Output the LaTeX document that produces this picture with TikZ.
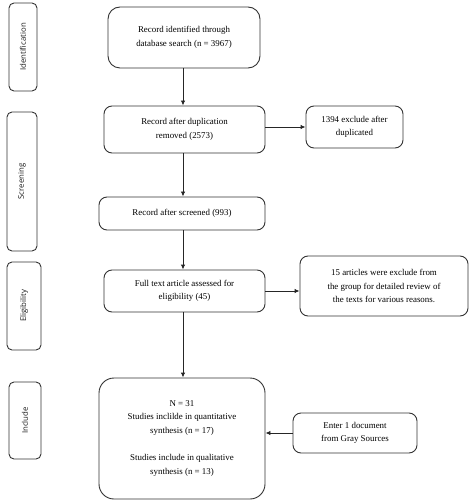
\documentclass[tikz,border=0pt]{standalone}
\usepackage{fontspec}
\setmainfont{Liberation Serif}
\newfontfamily\labfont{Open Sans}
\usetikzlibrary{arrows.meta}
\begin{document}
\begin{tikzpicture}[x=1bp,y=-1bp,
  box/.style={draw=black!80, line width=0.9bp, rounded corners=8bp, align=center,
    font=\fontsize{8.9bp}{13.5bp}\selectfont, inner sep=0pt, text=black},
  stage/.style={draw=black!80, line width=0.9bp, rounded corners=5bp, inner sep=0pt},
  stagetext/.style={rotate=90, font=\labfont\fontsize{7.8bp}{9bp}\selectfont, text=black!90},
  arr/.style={draw=black!85, line width=0.9bp, -{Latex[length=5bp,width=4.5bp]}}]
\useasboundingbox (0,0) rectangle (474,502);
% stage labels
\node[stage, minimum width=28bp, minimum height=88bp] (id) at (23,47) {};
\node[stagetext] (idt) at (id.center) {Identification};
\node[stage, minimum width=30bp, minimum height=139bp] (scr) at (22,181.5) {};
\node[stagetext] (scrt) at (scr.center) {Screening};
\node[stage, minimum width=34bp, minimum height=88bp] (elig) at (24,306) {};
\node[stagetext] (eligt) at (elig.center) {Eligibility};
\node[stage, minimum width=32bp, minimum height=77bp] (incl) at (25,420.5) {};
\node[stagetext] (inclt) at (incl.center) {Include};
% main boxes
\node[box, rounded corners=12bp, minimum width=152bp, minimum height=61bp] (b1) at (184,37.5)
  {Record identified through\\database search (n = 3967)};
\node[box, minimum width=161bp, minimum height=47bp] (b2) at (184.5,129.5)
  {Record after duplication\\removed (2573)};
\node[box, minimum width=166bp, minimum height=33bp] (b3) at (182,213.5)
  {Record after screened (993)};
\node[box, minimum width=161bp, minimum height=42bp] (b4) at (184.5,291)
  {Full text article assessed for\\eligibility (45)};
\node[box, rounded corners=15bp, minimum width=166bp, minimum height=121bp] (b5) at (182,438.5)
  {N = 31\\Studies inclilde in quantitative\\synthesis (n = 17)\\[14bp]Studies include in qualitative\\synthesis (n = 13)};
% side boxes
\node[box, minimum width=97bp, minimum height=42bp] (s1) at (354.5,127)
  {1394 exclude after\\duplicated};
\node[box, minimum width=168bp, minimum height=60bp] (s2) at (384,286)
  {15 articles were exclude from\\the group for detailed review of\\the texts for various reasons.};
\node[box, minimum width=124bp, minimum height=40bp] (s3) at (355,433)
  {Enter 1 document\\from Gray Sources};
% connectors
\draw[arr] (183,68) coordinate (c1) -- (c1 |- b2.north);
\draw[arr] (183,153) coordinate (c2) -- (c2 |- b3.north);
\draw[arr] (183,230) coordinate (c3) -- (c3 |- b4.north);
\draw[arr] (183,312) coordinate (c4) -- (c4 |- b5.north);
\draw[arr] (b2.east |- s1.west) -- (s1.west);
\draw[arr] (b4.east) -- (b4.east -| s2.west);
\draw[arr] (s3.west) -- (s3.west -| b5.east);
\end{tikzpicture}
\end{document}
